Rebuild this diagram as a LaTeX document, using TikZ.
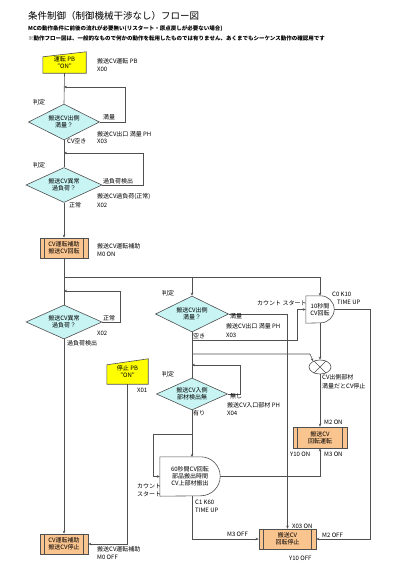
\documentclass[tikz,border=0pt]{standalone}
\usepackage{fontspec}
\setmainfont{Noto Sans CJK JP}
\usetikzlibrary{shapes.geometric,arrows.meta,backgrounds,calc}
\definecolor{lineC}{HTML}{505050}
\definecolor{cyanC}{HTML}{C8F4F4}
\definecolor{boxC}{HTML}{FAC48E}
\definecolor{yelC}{HTML}{FFFF00}
\begin{document}
\begin{tikzpicture}[x=1pt,y=-1pt,
 every node/.style={font=\fontsize{6}{7}\selectfont, inner sep=0pt, text=black},
 ln/.style={draw=lineC, line width=0.6pt},
 arr/.style={ln, -{Stealth[length=3pt,width=2.6pt]}},
 dec/.style={diamond, aspect=2, draw=lineC, line width=0.6pt, fill=cyanC, align=center},
 pproc/.style={rectangle, draw=lineC, line width=0.6pt, fill=boxC, align=center},
 lbl/.style={anchor=west, align=left},
 shapebox/.style={rectangle, align=center}
]
\useasboundingbox (0,0) rectangle (400,578);

% title
\node[anchor=west, font=\fontsize{9.5}{11}\selectfont] (title) at (28,16) {条件制御（制御機械干渉なし）フロー図};
\node[anchor=west, font=\bfseries\fontsize{5.5}{6.5}\selectfont] (sub1) at (28,29) {MCの動作条件に前後の流れが必要無い(リスタート・原点戻しが必要ない場合)};
\node[anchor=west, font=\bfseries\fontsize{5.5}{6.5}\selectfont] (sub2) at (28,38) {※動作フロー図は、一般的なもので何かの動作を転用したものでは有りません、あくまでもシーケンス動作の確認用です};

% left column
\node[shapebox, minimum width=43pt, minimum height=21pt] (start) at (64.5,62.5) {運転 PB\\"ON"};
\node[dec, minimum width=71pt, minimum height=36pt] (d1) at (64,122) {搬送CV出側\\満量？};
\node[dec, minimum width=76pt, minimum height=35pt] (d2) at (64,185) {搬送CV異常\\過負荷？};
\node[pproc, minimum width=48pt, minimum height=20pt] (b1) at (64,248) {CV運転補助\\搬送CV回転};
\node[dec, minimum width=76pt, minimum height=34pt] (d3) at (64,322) {搬送CV異常\\過負荷？};
\node[shapebox, minimum width=41pt, minimum height=25pt] (stop) at (127.5,371.5) {停止 PB\\"ON"};
\node[pproc, minimum width=48pt, minimum height=20pt] (b2) at (64,544) {CV運転補助\\搬送CV停止};

% right column
\node[dec, minimum width=73pt, minimum height=36pt] (d4) at (192,314) {搬送CV出側\\満量？};
\node[shapebox, minimum width=28pt, minimum height=27pt] (t1) at (320,309.5) {10秒間\\CV回転};
\node[ellipse, draw=lineC, line width=0.6pt, fill=white, minimum width=22pt, minimum height=14pt] (j) at (320,367) {};
\node[dec, minimum width=71pt, minimum height=32pt] (d5) at (192,394) {搬送CV入側\\部材検出無};
\node[pproc, minimum width=54pt, minimum height=21pt] (b3) at (320,437.5) {搬送CV\\回転運転};
\node[shapebox, minimum width=60pt, minimum height=39pt] (t2) at (190,476.5) {60秒間CV回転\\部品搬出時間\\CV上部材搬出};
\node[pproc, minimum width=57pt, minimum height=20pt] (b4) at (287.5,539) {搬送CV\\回転停止};

\begin{scope}[on background layer]
\fill[white] (0,0) rectangle (400,578);
\draw[ln, fill=yelC] (start.south west) -- (start.south east) -- (start.north east) -- ([yshift=-5pt]start.north west) -- cycle;
\draw[ln, fill=yelC] (stop.south west) -- (stop.south east) -- (stop.north east) -- ([yshift=-6pt]stop.north west) -- cycle;
\draw[ln, fill=white] (t1.south west) -- (t1.north west) -- ([xshift=-13.5pt]t1.north east) arc[start angle=90, end angle=-90, radius=13.5pt] -- cycle;
\draw[ln, fill=white] (t2.south west) -- (t2.north west) -- ([xshift=-19.5pt]t2.north east) arc[start angle=90, end angle=-90, radius=19.5pt] -- cycle;
\end{scope}

\foreach \b in {b1,b2,b3,b4}{
  \draw[ln] ([xshift=5pt]\b.north west) -- ([xshift=5pt]\b.south west)
            ([xshift=-5pt]\b.north east) -- ([xshift=-5pt]\b.south east);
}
\draw[ln] (j.45) -- (j.225) (j.135) -- (j.315);

% coordinates
\coordinate (L1a) at (125,122); \coordinate (L1b) at (125,87); \coordinate (L1c) at (64,87);
\coordinate (L2a) at (143,185); \coordinate (L2b) at (143,153); \coordinate (L2c) at (64,153);
\coordinate (L3a) at (120,322); \coordinate (L3b) at (120,291); \coordinate (L3c) at (64,291);
\coordinate (br1) at (64,277); \coordinate (br2) at (192,277); \coordinate (br3) at (320,277);
\coordinate (c340) at (192,340); \coordinate (cs1) at (297,340);
\coordinate (c354) at (192,354); \coordinate (cj) at (310,354);
\coordinate (L5a) at (240,394); \coordinate (L5b) at (240,365); \coordinate (L5c) at (192,365);
\coordinate (c434) at (192,434); \coordinate (cs2) at (153,434);
\coordinate (t2top) at (192,457); \coordinate (t2bot) at (192,496);
\coordinate (cR1) at (370,309.5);

% connectors left
\draw[ln] (start.south) -- (d1.north);
\draw[arr] (d1.east) -- (L1a) -- (L1b) -- (L1c);
\draw[ln] (d1.south) -- (d2.north);
\draw[arr] (d2.east) -- (L2a) -- (L2b) -- (L2c);
\draw[arr] (d2.south) -- (b1.north);
\draw[ln] (b1.south) -- (d3.north);
\draw[arr] (d3.east) -- (L3a) -- (L3b) -- (L3c);
\draw[arr] (d3.south) -- (b2.north);
\draw[arr] (stop.south) |- (b2.east);
\draw[ln] (br1) -- (br3);
\draw[arr] (br2) -- (d4.north);
\draw[arr] (br3) -- (t1.north);

% connectors right
\draw[arr] (d4.east) -| (b4.north);
\draw[ln] (d4.south) -- (d5.north);
\draw[arr] (c340) -- (cs1) |- (t1.west);
\draw[arr] (c354) -- (cj) -- (j.140);
\draw[arr] (t1.south) -- (j.north);
\draw[arr] (j.south) -- (b3.north);
\draw[arr] (d5.east) -- (L5a) -- (L5b) -- (L5c);
\draw[arr] (d5.south) -- (t2top);
\draw[arr] (c434) -- (cs2) |- (t2.west);
\draw[arr] (t2.east) -| (b3.south);
\draw[arr] (t2bot) |- (b4.west);
\draw[arr] (t1.east) -- (cR1) |- (b4.east);

% labels left
\node[lbl] (la1) at (97,61) {搬送CV運転 PB};
\node[lbl] (la2) at (97,69) {X00};
\node[lbl] (la3) at (33,102) {判定};
\node[lbl] (la4) at (103,117) {満量};
\node[lbl] (la5) at (97,134) {搬送CV出口 満量 PH};
\node[lbl] (la6) at (97,141) {X03};
\node[lbl] (la7) at (67,141) {CV空き};
\node[lbl] (la8) at (33,165) {判定};
\node[lbl] (la9) at (103,181) {過負荷検出};
\node[lbl] (la10) at (97,197) {搬送CV過負荷(正常)};
\node[lbl] (la11) at (97,205) {X02};
\node[lbl] (la12) at (69,205) {正常};
\node[lbl] (la13) at (97,246) {搬送CV運転補助};
\node[lbl] (la14) at (97,254) {M0 ON};
\node[lbl] (la15) at (103,318) {正常};
\node[lbl] (la16) at (97,333) {X02};
\node[lbl] (la17) at (67,343) {過負荷検出};
\node[lbl] (la18) at (137,390) {X01};
\node[lbl] (la19) at (97,549) {搬送CV運転補助};
\node[lbl] (la20) at (97,557) {M0 OFF};

% labels right
\node[lbl] (lb1) at (162,293) {判定};
\node[lbl] (lb2) at (230,316) {満量};
\node[lbl] (lb3) at (226,326) {搬送CV出口 満量 PH};
\node[lbl] (lb4) at (226,335) {X03};
\node[lbl] (lb5) at (193,336) {空き};
\node[lbl] (lb6) at (257,303) {カウント スタート};
\node[lbl] (lb7) at (332,294) {C0 K10};
\node[lbl] (lb8) at (337,302) {TIME UP};
\node[lbl] (lb9) at (322,377) {CV出側部材};
\node[lbl] (lb10) at (322,386) {満量だとCV停止};
\node[lbl] (lb11) at (162,374) {判定};
\node[lbl] (lb12) at (230,396) {無し};
\node[lbl] (lb13) at (227,405) {搬送CV入口部材 PH};
\node[lbl] (lb14) at (227,413) {X04};
\node[lbl] (lb15) at (193,413) {有り};
\node[lbl] (lb16) at (324,422) {M2 ON};
\node[lbl] (lb17) at (290,454) {Y10 ON};
\node[lbl] (lb18) at (324,454) {M3 ON};
\node[lbl] (lb19) at (137,486) {カウント};
\node[lbl] (lb20) at (137,494) {スタート};
\node[lbl] (lb21) at (195,502) {C1 K60};
\node[lbl] (lb22) at (195,510) {TIME UP};
\node[lbl] (lb23) at (227,534) {M3 OFF};
\node[lbl] (lb24) at (292,526) {X03 ON};
\node[lbl] (lb25) at (322,535) {M2 OFF};
\node[lbl] (lb26) at (289,558) {Y10 OFF};
\end{tikzpicture}
\end{document}
